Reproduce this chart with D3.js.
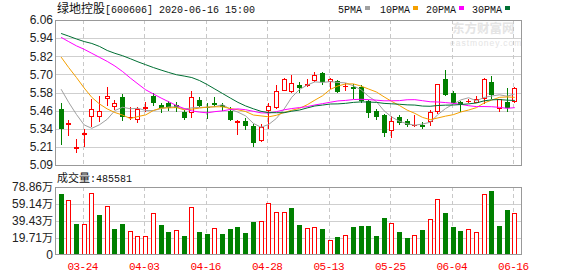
<!DOCTYPE html>
<html>
<head>
<meta charset="utf-8">
<script src="https://cdn.jsdelivr.net/npm/d3@7/dist/d3.min.js"></script>
<style>
  html, body { margin: 0; padding: 0; background: #fff; }
  svg { display: block; }
</style>
</head>
<body>
<div id="chart"></div>
<script>
// 60 trading days, 2020-03-19 .. 2020-06-16
const dates = ["03-19","03-20","03-23","03-24","03-25","03-26","03-27","03-30","03-31","04-01",
  "04-02","04-03","04-07","04-08","04-09","04-10","04-13","04-14","04-15","04-16",
  "04-17","04-20","04-21","04-22","04-23","04-24","04-27","04-28","04-29","04-30",
  "05-06","05-07","05-08","05-11","05-12","05-13","05-14","05-15","05-18","05-19",
  "05-20","05-21","05-22","05-25","05-26","05-27","05-28","05-29","06-01","06-02",
  "06-03","06-04","06-05","06-08","06-09","06-10","06-11","06-12","06-15","06-16"];

const opens = [5.465,5.360,5.195,5.288,5.409,5.409,5.534,5.476,5.543,5.405,
  5.391,5.462,5.552,5.489,5.502,5.489,5.444,5.436,5.525,5.478,
  5.507,5.494,5.449,5.373,5.386,5.351,5.253,5.453,5.471,5.587,
  5.578,5.627,5.618,5.650,5.703,5.645,5.650,5.612,5.609,5.609,
  5.520,5.449,5.427,5.315,5.409,5.387,5.351,5.360,5.378,5.445,
  5.663,5.574,5.511,5.512,5.507,5.529,5.645,5.467,5.511,5.511];
const highs = [5.507,5.391,5.262,5.333,5.529,5.552,5.614,5.525,5.565,5.476,
  5.476,5.514,5.574,5.507,5.520,5.511,5.458,5.583,5.547,5.507,
  5.547,5.507,5.480,5.388,5.404,5.364,5.364,5.502,5.623,5.672,
  5.690,5.645,5.667,5.712,5.712,5.672,5.659,5.641,5.632,5.627,
  5.525,5.467,5.429,5.418,5.427,5.396,5.427,5.378,5.458,5.634,
  5.725,5.583,5.520,5.534,5.552,5.669,5.685,5.534,5.605,5.609];
const lows = [5.224,5.284,5.172,5.208,5.346,5.380,5.485,5.458,5.387,5.391,
  5.369,5.447,5.485,5.436,5.453,5.444,5.391,5.404,5.480,5.395,
  5.476,5.453,5.382,5.293,5.324,5.213,5.244,5.333,5.467,5.585,
  5.574,5.569,5.610,5.645,5.623,5.601,5.569,5.587,5.529,5.507,
  5.404,5.391,5.275,5.271,5.360,5.346,5.346,5.329,5.351,5.431,
  5.554,5.498,5.445,5.503,5.503,5.498,5.534,5.445,5.445,5.507];
const closes = [5.331,5.369,5.213,5.302,5.462,5.451,5.552,5.507,5.409,5.412,
  5.467,5.476,5.507,5.471,5.469,5.471,5.404,5.547,5.485,5.475,
  5.489,5.476,5.391,5.386,5.351,5.239,5.346,5.485,5.587,5.663,
  5.636,5.605,5.632,5.694,5.645,5.663,5.578,5.616,5.596,5.516,
  5.436,5.409,5.306,5.387,5.373,5.355,5.360,5.346,5.445,5.632,
  5.556,5.507,5.489,5.516,5.529,5.667,5.556,5.529,5.471,5.605];

// shares
const volumes = [704000,643000,358000,358000,724000,462000,574000,300000,358000,277000,
  216000,216000,485000,346000,266000,285000,219000,551000,266000,242000,
  308000,242000,300000,323000,254000,381000,393000,608000,504000,493000,
  543000,346000,308000,320000,297000,170000,208000,227000,323000,335000,
  335000,219000,427000,369000,269000,196000,227000,289000,423000,654000,
  485000,323000,277000,297000,266000,704000,739000,335000,520000,485581];

const ma5Head = [5.597,5.508,5.428,5.358];
const ma10Head = [5.812,5.741,5.675,5.605,5.542,5.498,5.465,5.441,5.424];
const ma20Head = [5.944,5.915,5.887,5.864,5.837,5.810,5.783,5.752,5.715,5.672,
  5.632,5.593,5.565,5.538,5.513,5.488,5.468,5.452,5.444];
const ma30Head = [5.970,5.952,5.933,5.916,5.903,5.883,5.856,5.837,5.821,5.801,
  5.780,5.761,5.742,5.725,5.709,5.694,5.685,5.675,5.655,5.628,
  5.598,5.568,5.538,5.509,5.485,5.466,5.449,5.440,5.440];

const priceTickLabels = ["6.06","5.94","5.82","5.70","5.58","5.46","5.34","5.21","5.09"];
const volTickValues = [788600, 591400, 394300, 197100, 0];
const volTickLabels = ["78.86万","59.14万","39.43万","19.71万","0"];
const xTickDates = ["03-24","04-03","04-16","04-28","05-13","05-25","06-04","06-16"];

const maNames = ["5PMA","10PMA","20PMA","30PMA"];
const maColors = ["#a0a0a0","#f5a000","#ff00ff","#006f33"];

const W = 578, H = 276;
const L = 55, R = 522, pTop = 20, pBot = 165, vTop = 187, vBot = 255;
const UP = "#ff0000", DOWN = "#008000";
const cjk = "'Noto Sans CJK SC', sans-serif";
const mono = "'Liberation Mono', 'DejaVu Sans Mono', monospace";
const sans = "'Liberation Sans', Arial, sans-serif";

const x = d3.scalePoint().domain(dates).range([60.6, 514.3]);
const y = d3.scaleLinear().domain([5.09, 6.06]).range([pBot, pTop]);
const yv = d3.scaleLinear().domain([0, 788600]).range([vBot, vTop]);

function movingAvg(n, head) {
  return closes.map((c, i) => i < n - 1 ? head[i] : d3.mean(closes.slice(i - n + 1, i + 1)));
}
const maSeries = [movingAvg(5, ma5Head), movingAvg(10, ma10Head), movingAvg(20, ma20Head), movingAvg(30, ma30Head)];

const svg = d3.select('#chart').append('svg')
  .attr('width', W).attr('height', H);

// title
const title = svg.append('text').attr('x', 57).attr('y', 12.5).attr('fill', '#111');
title.append('tspan').style('font-family', cjk).style('font-size', '12px').text('绿地控股');
title.append('tspan').style('font-family', mono).style('font-size', '10px').text('[600606] 2020-06-16 15:00');

// legend
const legendX = [338, 380, 426, 472];
maNames.forEach((name, i) => {
  svg.append('text').attr('x', legendX[i]).attr('y', 12.5)
    .style('font-family', mono).style('font-size', '10px').attr('fill', '#111').text(name);
  svg.append('rect').attr('x', legendX[i] + name.length * 6 + 3).attr('y', 6)
    .attr('width', 5).attr('height', 4).attr('fill', maColors[i]);
});

// watermark
svg.append('text').attr('x', 452).attr('y', 33).attr('fill', '#e4e4e4')
  .style('font-family', cjk).style('font-size', '12.5px').style('font-weight', 'bold').text('东方财富网');
svg.append('text').attr('x', 450).attr('y', 46).attr('fill', '#e4e4e4')
  .style('font-family', sans).style('font-size', '8.5px').style('letter-spacing', '1px').text('eastmoney.com');

// gridlines
const priceGridY = d3.range(priceTickLabels.length).map(k => y.range()[1] + k * (pBot - pTop) / (priceTickLabels.length - 1));
const snap = v => Math.round(v) + 0.5;

svg.append('g').selectAll('line').data(priceGridY.slice(1, -1)).enter().append('line')
  .attr('x1', L).attr('x2', R).attr('y1', d => snap(d)).attr('y2', d => snap(d))
  .attr('stroke', '#cfcfcf');
svg.append('g').selectAll('line').data(volTickValues.slice(1, -1)).enter().append('line')
  .attr('x1', L).attr('x2', R).attr('y1', d => snap(yv(d))).attr('y2', d => snap(yv(d)))
  .attr('stroke', '#cfcfcf');

[[pTop, pBot], [vTop, vBot]].forEach(([t, b]) => {
  svg.append('g').selectAll('line').data(xTickDates).enter().append('line')
    .attr('x1', d => snap(x(d) - 1)).attr('x2', d => snap(x(d) - 1))
    .attr('y1', t).attr('y2', b)
    .attr('stroke', '#c8c8c8').attr('stroke-dasharray', '4,3');
});

// candles
const candles = svg.append('g');
dates.forEach((d, i) => {
  const cx = Math.round(x(d));
  const up = closes[i] >= opens[i];
  const top = Math.round(y(Math.max(opens[i], closes[i])));
  const bot = Math.round(y(Math.min(opens[i], closes[i])));
  const hi = Math.round(y(highs[i])), lo = Math.round(y(lows[i]));
  if (up) {
    candles.append('line').attr('x1', cx + 0.5).attr('x2', cx + 0.5).attr('y1', hi).attr('y2', top)
      .attr('stroke', UP);
    candles.append('line').attr('x1', cx + 0.5).attr('x2', cx + 0.5).attr('y1', Math.max(bot, top + 1)).attr('y2', lo)
      .attr('stroke', UP);
    if (bot - top >= 2) {
      candles.append('rect').attr('x', cx - 1.5).attr('y', top + 0.5)
        .attr('width', 4).attr('height', bot - top - 1)
        .attr('fill', '#fff').attr('stroke', UP);
    } else {
      candles.append('rect').attr('x', cx - 2).attr('y', top).attr('width', 5).attr('height', Math.max(1, bot - top))
        .attr('fill', UP);
    }
  } else {
    candles.append('line').attr('x1', cx + 0.5).attr('x2', cx + 0.5).attr('y1', hi).attr('y2', lo)
      .attr('stroke', DOWN);
    candles.append('rect').attr('x', cx - 2).attr('y', top).attr('width', 5).attr('height', Math.max(1, bot - top))
      .attr('fill', DOWN);
  }
});

// moving averages
const line = d3.line().x((v, i) => x(dates[i]) + 0.5).y(v => y(v));
maSeries.forEach((s, k) => {
  svg.append('path').datum(s).attr('d', line)
    .attr('fill', 'none').attr('stroke', maColors[k]).attr('stroke-width', 1);
});

// volume bars: colour by change against previous close
const vols = svg.append('g');
dates.forEach((d, i) => {
  const cx = Math.round(x(d));
  const up = i === 0 ? closes[i] >= opens[i] : closes[i] >= closes[i - 1];
  const t = Math.round(yv(volumes[i]));
  if (up) {
    vols.append('rect').attr('x', cx - 1.5).attr('y', t + 0.5).attr('width', 4).attr('height', vBot - t - 1)
      .attr('fill', '#fff').attr('stroke', UP);
  } else {
    vols.append('rect').attr('x', cx - 2).attr('y', t).attr('width', 5).attr('height', vBot - t)
      .attr('fill', DOWN);
  }
});

// frames
svg.append('rect').attr('x', L + 0.5).attr('y', pTop + 0.5).attr('width', R - L - 1).attr('height', pBot - pTop)
  .attr('fill', 'none').attr('stroke', '#999');
svg.append('rect').attr('x', L + 0.5).attr('y', vTop + 0.5).attr('width', R - L - 1).attr('height', vBot - vTop - 1)
  .attr('fill', 'none').attr('stroke', '#999');

// price axis labels
svg.append('g').selectAll('text').data(priceTickLabels).enter().append('text')
  .attr('x', 53).attr('y', (d, k) => priceGridY[k] + 4.3)
  .attr('text-anchor', 'end').attr('fill', '#222')
  .style('font-family', sans).style('font-size', '12px').text(d => d);

// volume axis labels
const vLab = svg.append('g').selectAll('text').data(volTickValues).enter().append('text')
  .attr('x', 53).attr('y', d => yv(d) + 4.3).attr('text-anchor', 'end').attr('fill', '#222');
vLab.each(function (d, k) {
  const lab = volTickLabels[k];
  const num = lab.replace('万', '');
  const t = d3.select(this);
  t.append('tspan').style('font-family', sans).style('font-size', '12px').text(num);
  if (lab.endsWith('万')) t.append('tspan').style('font-family', cjk).style('font-size', '11px').text('万');
});

// volume title
const vt = svg.append('text').attr('x', 57).attr('y', 181.5).attr('fill', '#111');
vt.append('tspan').style('font-family', cjk).style('font-size', '11px').text('成交量');
vt.append('tspan').style('font-family', mono).style('font-size', '10px').text(':' + volumes[volumes.length - 1]);

// date labels
svg.append('g').selectAll('text').data(xTickDates).enter().append('text')
  .attr('x', d => x(d) - 1).attr('y', 270).attr('text-anchor', 'middle').attr('fill', '#ff0000')
  .style('font-family', mono).style('font-size', '11px').style('letter-spacing', '-0.5px')
  .text(d => d);
</script>
</body>
</html>
